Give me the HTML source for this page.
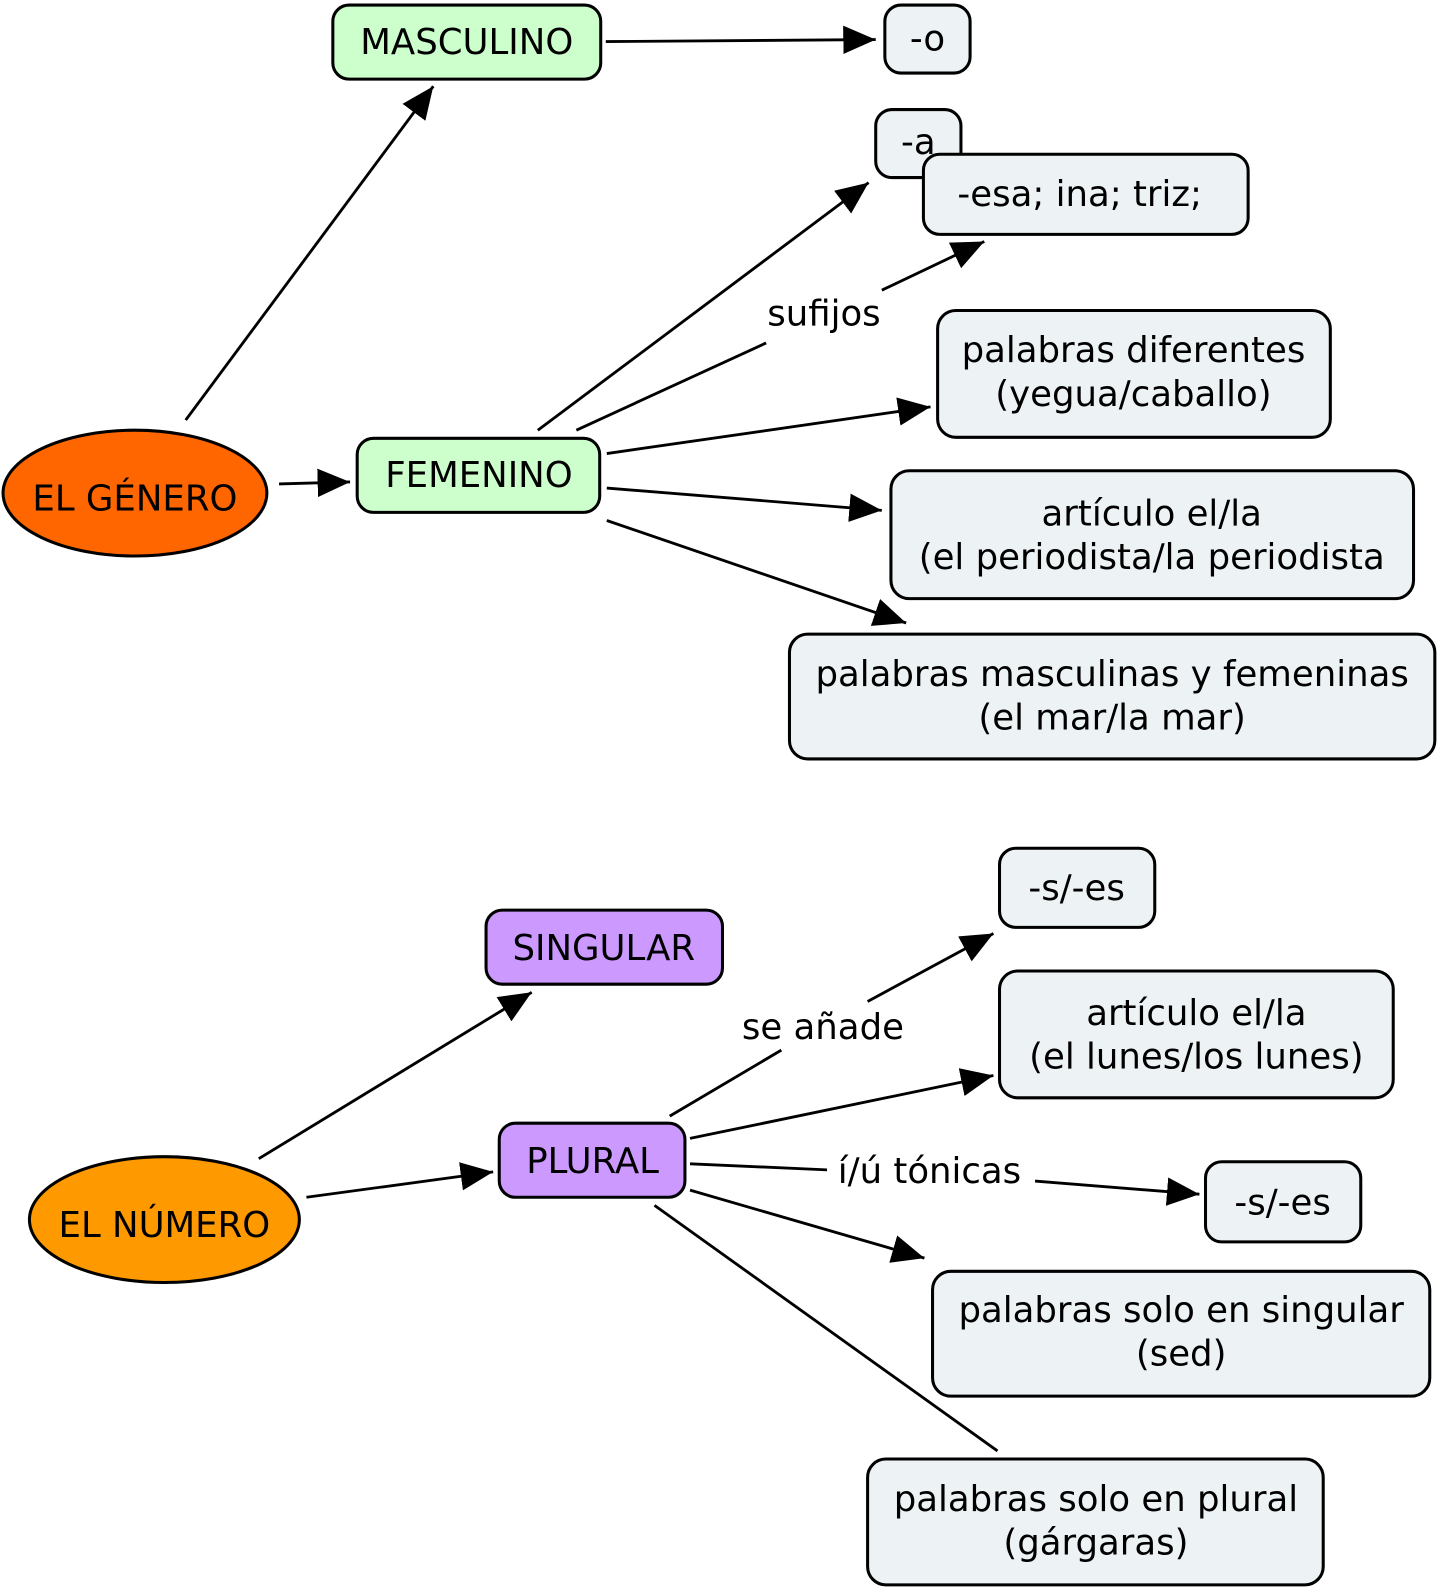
<!DOCTYPE html>
<html><head><meta charset="utf-8"><style>
html,body{margin:0;padding:0;background:#fff;}
svg{display:block;}
text{font-family:"DejaVu Sans","Liberation Sans",sans-serif;font-size:35px;fill:#000;text-anchor:middle;}
</style></head><body>
<svg width="1446" height="1595" viewBox="0 0 1425 1572" preserveAspectRatio="none" xmlns="http://www.w3.org/2000/svg">
<defs>
<marker id="ar" markerUnits="userSpaceOnUse" markerWidth="34" markerHeight="28" refX="32" refY="14" orient="auto">
<path d="M0,0 L32,14 L0,28 Z" fill="#000"/>
</marker>
</defs>
<g stroke="#000" stroke-width="2.8" fill="none">
<line x1="183" y1="414" x2="427" y2="85" marker-end="url(#ar)"/>
<line x1="597" y1="41" x2="863" y2="39" marker-end="url(#ar)"/>
<line x1="275" y1="477" x2="345" y2="475" marker-end="url(#ar)"/>
<line x1="530" y1="424" x2="856" y2="180" marker-end="url(#ar)"/>
<line x1="568" y1="424" x2="755" y2="338"/>
<line x1="869" y1="286" x2="970" y2="238" marker-end="url(#ar)"/>
<line x1="598" y1="447" x2="917" y2="401" marker-end="url(#ar)"/>
<line x1="598" y1="481" x2="869" y2="503" marker-end="url(#ar)"/>
<line x1="598" y1="513" x2="893" y2="614" marker-end="url(#ar)"/>
<line x1="255" y1="1142" x2="524" y2="978" marker-end="url(#ar)"/>
<line x1="302" y1="1180" x2="486" y2="1155" marker-end="url(#ar)"/>
<line x1="660" y1="1100" x2="770" y2="1035"/>
<line x1="855" y1="987" x2="979" y2="920" marker-end="url(#ar)"/>
<line x1="680" y1="1122" x2="979" y2="1060" marker-end="url(#ar)"/>
<line x1="680" y1="1147" x2="815" y2="1153"/>
<line x1="1020" y1="1164" x2="1182" y2="1177" marker-end="url(#ar)"/>
<line x1="680" y1="1173" x2="911" y2="1240" marker-end="url(#ar)"/>
<line x1="645" y1="1188" x2="983" y2="1430"/>
</g>
<g stroke="#000" stroke-width="3">
<rect x="328" y="5" width="264" height="73" rx="16" fill="#ccffcc"/>
<rect x="872" y="5" width="84" height="67" rx="16" fill="#edf2f4"/>
<rect x="863" y="108" width="84" height="67" rx="16" fill="#edf2f4"/>
<rect x="910" y="152" width="320" height="79" rx="16" fill="#edf2f4"/>
<rect x="924" y="306" width="387" height="125" rx="18" fill="#edf2f4"/>
<rect x="878" y="464" width="515" height="126" rx="18" fill="#edf2f4"/>
<rect x="778" y="625" width="636" height="123" rx="18" fill="#edf2f4"/>
<ellipse cx="133" cy="486" rx="130" ry="62" fill="#ff6600"/>
<rect x="352" y="432" width="239" height="73" rx="16" fill="#ccffcc"/>
<rect x="479" y="897" width="233" height="73" rx="16" fill="#cc99ff"/>
<rect x="492" y="1107" width="183" height="73" rx="16" fill="#cc99ff"/>
<rect x="985" y="836" width="153" height="78" rx="16" fill="#edf2f4"/>
<rect x="985" y="957" width="388" height="125" rx="18" fill="#edf2f4"/>
<rect x="1188" y="1145" width="153" height="79" rx="16" fill="#edf2f4"/>
<rect x="919" y="1253" width="490" height="123" rx="18" fill="#edf2f4"/>
<rect x="855" y="1438" width="449" height="124" rx="18" fill="#edf2f4"/>
<ellipse cx="162" cy="1202" rx="133" ry="62" fill="#ff9900"/>
</g>
<text x="460" y="53">MASCULINO</text>
<text x="914" y="50">-o</text>
<text x="905" y="152">-a</text>
<text x="1064" y="203">-esa; ina; triz;</text>
<text x="812" y="321">sufijos</text>
<text x="1117" y="357">palabras diferentes</text>
<text x="1117" y="400">(yegua/caballo)</text>
<text x="1135" y="518">artículo el/la</text>
<text x="1135" y="561">(el periodista/la periodista</text>
<text x="1096" y="676">palabras masculinas y femeninas</text>
<text x="1096" y="719">(el mar/la mar)</text>
<text x="133" y="503">EL GÉNERO</text>
<text x="472" y="480">FEMENINO</text>
<text x="595" y="946">SINGULAR</text>
<text x="584" y="1156">PLURAL</text>
<text x="1061" y="887">-s/-es</text>
<text x="811" y="1024">se añade</text>
<text x="1179" y="1010">artículo el/la</text>
<text x="1179" y="1053">(el lunes/los lunes)</text>
<text x="916" y="1166">í/ú tónicas</text>
<text x="1264" y="1197">-s/-es</text>
<text x="1164" y="1303">palabras solo en singular</text>
<text x="1164" y="1346">(sed)</text>
<text x="1080" y="1489">palabras solo en plural</text>
<text x="1080" y="1532">(gárgaras)</text>
<text x="162" y="1219">EL NÚMERO</text>
</svg>
</body></html>
